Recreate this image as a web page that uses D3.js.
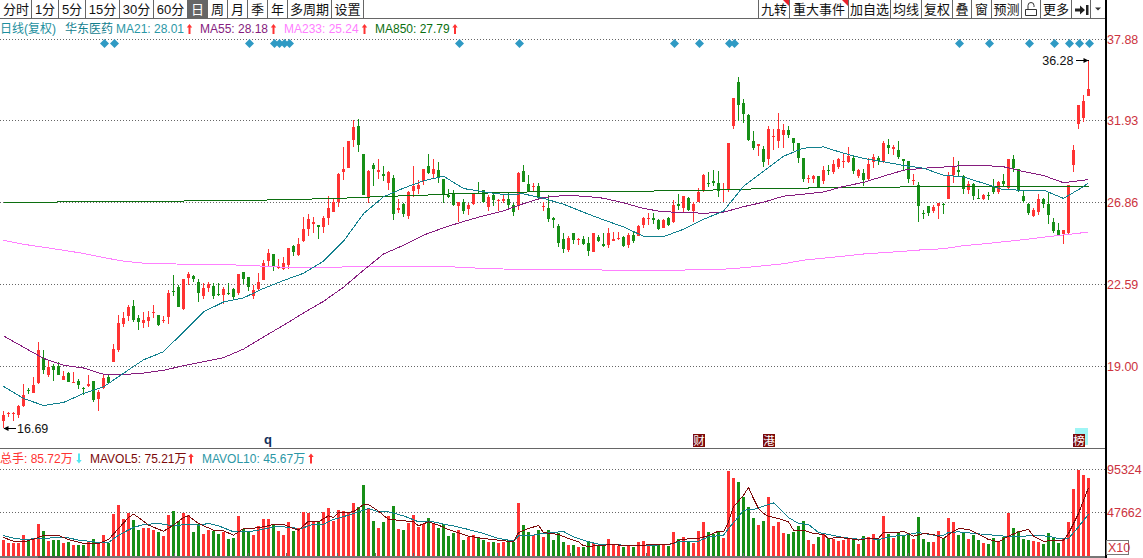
<!DOCTYPE html>
<html lang="zh">
<head>
<meta charset="utf-8">
<title>华东医药 日线</title>
<script src="https://cdn.jsdelivr.net/npm/d3@7/dist/d3.min.js"></script>
<style>
  html, body { margin: 0; padding: 0; background: #fff; }
  svg { display: block; }
  text { font-family: "Liberation Sans", "Noto Sans CJK SC", sans-serif; }
  .crisp { shape-rendering: crispEdges; }
</style>
</head>
<body>
<script>
// Daily OHLC prices, oldest first
const opens = [
  16.94,17.19,17.19,17.15,17.47,18.07,17.98,18.36,19.36,18.65,
  19.02,19.02,18.46,18.74,18.34,18.42,18.16,18.22,18.42,17.74,
  18.17,18.59,19.17,19.67,20.77,21.13,21.59,21.04,20.82,20.92,
  21.25,21.17,20.91,21.10,22.29,22.48,21.44,22.91,22.99,22.72,
  22.05,22.43,22.51,22.13,22.11,22.18,22.37,22.19,23.19,22.93,
  22.05,22.37,22.80,23.73,24.09,23.39,23.36,23.53,24.49,24.03,
  24.75,25.38,25.65,25.60,25.51,25.98,26.35,26.89,28.65,28.87,
  30.63,31.55,29.78,27.09,29.05,28.63,28.51,27.97,28.27,26.42,
  26.76,26.11,27.50,27.62,28.09,29.00,28.55,28.75,28.21,27.31,
  27.33,26.65,26.86,26.48,26.76,27.41,27.56,26.60,27.31,26.95,
  26.93,27.05,26.71,26.65,28.71,27.91,27.75,27.79,26.59,26.52,
  26.01,25.54,24.85,24.32,25.16,24.80,24.85,24.68,24.20,24.99,
  24.58,24.54,24.76,24.89,24.99,24.54,25.05,25.04,25.60,25.94,
  25.98,25.89,25.47,26.00,25.76,26.75,26.57,27.09,26.37,26.86,
  27.52,28.01,28.11,27.99,27.60,27.66,31.56,34.61,33.11,32.28,
  30.57,30.25,30.05,29.42,30.85,30.57,30.95,31.28,30.76,30.44,
  29.49,28.23,28.21,28.39,28.09,28.75,28.67,28.93,29.28,29.24,
  29.50,28.39,28.57,28.21,29.28,29.53,29.24,30.31,30.07,29.99,
  29.42,29.32,28.11,27.89,26.24,26.65,26.38,26.67,26.78,27.06,
  28.47,28.75,28.39,27.56,27.91,27.14,27.05,27.29,27.75,27.46,
  28.09,27.69,29.42,28.85,27.22,26.75,26.11,26.31,27.05,26.76,
  25.80,25.33,25.12,25.16,29.05,31.68,32.07,33.62
];
const closes = [
  17.15,17.21,17.21,17.47,17.88,18.03,18.26,19.67,18.85,18.98,
  18.85,18.65,18.61,18.37,18.37,18.26,18.12,18.33,17.70,18.01,
  18.54,18.36,19.71,20.82,21.04,21.54,20.95,20.88,20.95,21.08,
  21.31,20.73,20.98,22.19,22.24,21.54,22.85,23.09,22.86,22.19,
  22.43,22.61,22.04,22.08,22.37,22.13,21.98,23.09,22.85,22.48,
  22.31,22.69,23.62,24.12,23.48,23.44,23.62,24.41,24.20,24.63,
  25.38,25.91,25.76,25.51,26.00,26.57,26.86,28.55,28.85,30.57,
  31.50,30.31,27.29,28.69,28.81,28.75,28.39,28.63,26.20,26.55,
  26.20,27.45,27.81,27.85,28.85,28.59,28.85,28.27,27.33,27.18,
  26.71,26.86,26.37,26.71,27.37,27.35,26.86,27.18,26.99,27.01,
  27.05,26.71,26.33,28.59,28.05,27.52,27.79,27.18,26.65,25.91,
  25.87,24.66,24.33,24.94,24.80,24.89,24.63,24.25,25.19,24.76,
  24.49,25.19,24.85,24.94,24.49,25.05,24.75,25.54,26.00,26.00,
  25.89,25.37,25.89,25.60,26.71,26.67,27.22,26.42,26.76,27.46,
  28.45,27.96,28.01,27.52,27.63,30.44,33.46,32.97,32.35,30.63,
  30.10,30.38,29.24,31.35,30.91,31.35,31.28,30.95,30.44,29.49,
  28.21,28.29,28.39,27.71,28.75,28.71,29.11,29.44,29.32,29.65,
  28.69,28.75,28.15,29.11,29.59,29.32,30.44,30.12,30.18,29.55,
  29.30,28.21,28.17,26.67,26.20,26.28,26.63,26.82,26.72,28.49,
  28.95,28.63,27.63,27.91,27.23,27.09,27.27,27.23,27.46,28.05,
  27.91,29.42,28.89,27.56,26.93,26.24,26.42,27.05,26.76,26.15,
  25.27,25.07,25.33,27.85,29.99,32.97,33.25,34.10
];
const highs = [
  17.29,17.25,17.25,17.51,18.33,18.16,18.58,19.99,19.67,19.25,
  19.12,19.18,18.81,18.78,18.78,18.49,18.20,18.65,18.42,18.07,
  18.72,18.65,19.92,21.17,21.32,21.65,21.85,21.17,21.32,21.37,
  21.62,21.17,21.14,22.35,23.04,22.56,22.85,23.20,23.04,22.85,
  22.64,22.69,22.64,22.64,22.45,22.64,22.40,23.09,23.19,22.96,
  22.56,23.12,23.78,24.36,24.09,23.83,23.93,24.41,24.54,24.94,
  26.05,26.23,26.05,25.60,26.09,27.22,27.09,28.61,30.20,30.57,
  31.95,32.02,29.78,28.79,29.16,29.46,29.00,28.71,28.45,27.05,
  26.80,27.52,29.00,28.15,28.85,29.74,29.42,29.24,28.25,27.66,
  27.56,26.86,27.05,26.84,27.37,28.04,27.56,27.27,27.37,27.03,
  27.37,27.41,26.84,28.65,29.05,28.45,27.96,28.01,26.89,27.27,
  26.05,25.65,25.19,25.01,25.16,24.94,25.04,24.99,25.19,25.07,
  25.16,25.47,25.24,25.24,25.01,25.16,25.27,25.60,26.05,26.24,
  26.24,25.96,25.96,26.05,26.99,27.33,27.22,27.18,26.89,27.71,
  28.51,28.65,28.75,28.71,27.99,30.44,33.46,34.98,33.44,32.35,
  31.21,30.38,30.25,31.55,31.33,32.43,31.68,31.55,30.76,30.44,
  29.53,28.45,28.45,28.39,28.98,29.05,29.40,29.53,29.78,30.18,
  29.67,28.81,28.85,29.53,29.78,29.61,30.57,30.69,30.31,30.57,
  29.42,29.32,28.51,28.05,26.46,26.65,26.71,26.84,26.80,28.65,
  29.55,29.30,28.45,28.09,28.01,27.62,27.33,27.46,28.25,28.09,
  28.55,29.46,29.67,28.85,27.56,26.84,26.52,27.37,27.09,27.46,
  26.00,25.72,25.33,27.85,30.31,32.97,33.68,36.28
];
const lows = [
  16.69,17.09,16.94,17.03,17.45,17.92,17.95,18.33,18.72,18.59,
  18.43,18.65,18.46,18.37,18.34,18.13,17.88,18.20,17.64,17.29,
  18.10,18.30,19.17,19.60,20.66,20.92,20.88,20.51,20.61,20.63,
  21.03,20.69,20.83,20.77,22.04,21.52,21.40,22.56,22.72,21.78,
  21.93,22.24,21.93,22.05,21.70,22.08,21.93,22.08,22.59,22.29,
  21.90,22.32,22.80,23.48,23.24,23.36,23.31,23.36,24.00,24.00,
  24.72,25.04,25.16,24.85,25.19,25.60,26.33,26.60,28.15,28.87,
  30.20,29.88,27.29,26.84,27.79,28.25,28.11,27.56,25.87,26.24,
  26.05,25.96,27.18,27.33,27.85,28.55,28.25,27.99,26.84,27.14,
  26.67,25.75,26.20,26.14,26.71,27.33,26.80,26.37,26.65,26.38,
  26.84,26.52,26.09,26.46,28.05,27.46,27.46,26.99,26.37,25.80,
  25.45,24.45,24.16,24.20,24.63,24.54,24.54,23.98,24.20,24.72,
  24.45,24.40,24.76,24.80,24.45,24.40,24.66,25.04,25.45,25.60,
  25.65,25.33,25.47,25.54,25.72,26.42,26.28,26.37,25.78,26.86,
  27.46,27.75,27.81,27.18,26.89,27.46,31.35,31.90,31.73,30.57,
  29.99,29.61,28.95,29.05,29.99,30.16,30.13,30.74,29.93,29.16,
  28.05,27.99,28.01,27.71,27.91,28.45,28.55,28.81,28.89,29.16,
  28.55,28.31,27.79,28.15,28.87,29.05,29.16,29.78,29.67,29.46,
  28.75,27.99,27.85,25.76,25.91,26.09,26.29,25.92,26.20,27.06,
  27.99,28.39,27.37,27.33,26.99,27.05,26.99,26.99,27.37,27.33,
  27.81,27.66,28.65,27.46,26.84,26.15,26.05,26.15,26.55,25.65,
  25.16,25.07,24.59,25.12,28.65,31.33,31.84,33.62
];

// Daily volume in units of ten lots (panel is marked X10)
const volumes = [
  16990,14040,13670,13670,22540,17000,18110,34730,26970,15890,
  17000,17000,14040,15150,11450,11450,11450,15150,18110,13300,
  22540,14040,45820,55800,41010,46930,39170,28080,30300,30300,
  28080,25870,21430,44710,49140,38060,46930,44340,25870,34730,
  23650,28080,26970,23650,25870,18110,19210,43600,29190,25870,
  22540,32520,41010,39910,33620,26970,22540,36950,26970,30300,
  48040,46930,36950,38060,48040,52470,38060,50250,49140,46930,
  58010,53580,77970,51360,38060,30300,36950,43600,54690,29190,
  28080,35840,44710,31410,34730,41380,34730,30300,34730,21430,
  24760,28080,17000,20320,22540,20320,17000,14780,14780,13670,
  14780,17000,14780,58010,33620,25870,22540,28080,20320,28080,
  17000,24760,14780,11450,11450,9240,9240,15890,13670,10720,
  12190,18110,11450,10350,9240,11450,9240,14780,15890,11450,
  12190,12560,11450,10350,25870,18110,20320,15890,13670,26970,
  36950,25870,23650,26970,19210,93480,85720,81290,64660,53580,
  41380,33620,38060,64660,32520,36950,24760,23650,25870,32520,
  38060,17000,12560,20320,23650,19950,18110,15890,17000,18110,
  18110,12560,21430,20320,23650,17000,43600,23650,19210,24760,
  22170,24760,18110,42490,18110,14780,14780,26970,19210,41380,
  36950,22540,24760,18110,22540,17000,13670,12560,19210,14780,
  20320,46930,30300,26970,18110,17000,15890,14780,12560,24760,
  19210,13670,18110,36950,73530,95324,89050,85720
];

// Moving averages of the close, read every fourth session plus the last one
const maSampleDays = [...d3.range(0, 217, 4), 217];
const ma21 = [
  18.22,17.76,17.50,17.61,17.95,18.20,18.73,19.27,19.60,20.44,
  21.32,21.77,21.96,22.40,22.78,23.13,23.73,24.75,26.23,27.18,
  27.68,28.11,28.39,27.66,27.47,27.31,27.35,27.09,26.76,26.31,
  25.89,25.51,25.01,24.99,25.38,25.92,26.37,27.79,28.69,29.61,
  30.12,30.20,29.80,29.47,29.27,29.04,28.87,28.45,28.34,27.97,
  27.58,27.57,27.57,27.09,27.77,28.01
];
const ma55 = [
  20.27,19.79,19.33,19.05,18.94,18.69,18.68,18.74,18.85,19.03,
  19.19,19.36,19.71,20.22,20.73,21.27,21.80,22.46,23.28,24.09,
  24.54,25.07,25.46,25.80,26.11,26.39,26.79,27.14,27.25,27.22,
  27.10,26.84,26.52,26.33,26.31,26.25,26.31,26.62,26.87,27.22,
  27.33,27.46,27.78,28.02,28.39,28.75,28.87,28.94,29.04,29.04,
  28.96,28.67,28.43,28.00,28.15,28.18
];
const ma233 = [
  24.80,24.59,24.44,24.28,24.12,23.91,23.73,23.63,23.60,23.58,
  23.57,23.55,23.53,23.48,23.43,23.39,23.41,23.44,23.46,23.48,
  23.47,23.46,23.45,23.43,23.36,23.34,23.31,23.31,23.30,23.30,
  23.29,23.28,23.28,23.28,23.29,23.30,23.33,23.40,23.50,23.60,
  23.78,23.88,23.98,24.09,24.16,24.23,24.31,24.36,24.52,24.61,
  24.72,24.83,24.96,25.08,25.20,25.24
];
const ma850 = [
  26.87,26.87,26.87,26.89,26.90,26.90,26.92,26.93,26.93,26.94,
  26.96,26.97,26.97,26.99,27.03,27.03,27.09,27.10,27.16,27.19,
  27.24,27.27,27.33,27.37,27.39,27.43,27.45,27.49,27.50,27.50,
  27.50,27.50,27.50,27.53,27.54,27.56,27.59,27.62,27.65,27.66,
  27.68,27.72,27.72,27.74,27.74,27.75,27.77,27.77,27.78,27.78,
  27.78,27.79,27.79,27.79,27.79,27.79
];

// Volume averages, read at their turning points
const mavol5Days = [0,2,4,6,8,11,13,16,19,21,23,25,26,27,29,32,34,36,37,39,42,44,46,48,51,54,56,58,59,61,63,65,66,67,70,72,73,75,77,79,82,83,85,87,89,93,96,99,102,103,105,107,108,111,113,115,116,117,119,122,124,126,128,131,133,134,135,137,139,141,143,144,145,146,148,149,150,151,152,153,155,157,158,160,162,164,165,167,169,171,173,175,176,179,180,182,184,186,188,190,191,193,195,197,199,201,203,205,206,208,212,213,215,217];
const mavol5 = [19950,15890,15150,18100,22170,22170,17740,13300,13300,17740,29930,42120,45820,42120,33620,26970,33620,42120,43970,35470,28080,27340,22540,29930,30670,34360,34360,29930,28080,38060,37320,43970,42120,47300,48400,56530,56530,49140,39910,39170,37320,32890,37320,33620,28820,21430,18840,17000,15150,25500,29930,33260,25500,23280,18840,15150,10720,10350,10720,12560,10720,10720,11450,12560,12560,13300,17000,18480,18840,22170,26970,26230,37320,53950,66880,75380,63180,52100,46560,43600,41010,37320,28080,28080,24390,23280,18840,19950,18840,17000,18840,18840,25500,25500,26970,21430,24390,23280,18840,26970,29560,29190,23650,17740,15150,21430,26230,28820,21430,15890,17000,24390,46560,75210];
const mavol10Days = [0,2,4,7,10,13,15,17,19,21,23,26,28,31,34,37,39,41,43,46,49,52,55,57,58,59,62,64,66,69,71,73,75,77,80,83,86,89,90,93,96,99,102,103,106,108,112,114,117,119,122,125,129,133,135,139,141,144,145,147,148,150,152,154,155,157,159,161,163,165,168,171,173,175,178,180,183,186,188,189,191,195,198,201,203,206,209,211,213,215,217];
const mavol10 = [22170,19210,17740,18840,19580,19580,17000,15890,14410,14410,22540,31040,34360,35470,32890,34730,33620,35470,32890,26230,26230,29190,32520,31040,31040,28820,34730,34730,39910,44710,48400,52100,48400,48400,43970,37320,37320,33620,32890,28820,24390,18840,16260,21800,22540,24390,26600,20690,15150,12560,11820,11450,11450,11820,15150,15890,20690,22540,29930,42860,50250,50990,54690,58380,53210,42120,35470,34360,25500,23280,19950,18110,18840,17740,21430,22170,25500,22540,22540,25500,26230,24020,22540,21060,21060,22170,21430,18840,18840,31780,45670];

// Axis ticks and header text
const priceTicks = [37.88, 31.93, 26.86, 22.59, 19.00];
const volumeTicks = [95324, 47662];
const leftTabs = ["分时","1分","5分","15分","30分","60分","日","周","月","季","年","多周期","设置"];
const rightTabs = ["九转","重大事件","加自选","均线","复权","叠","窗","预测","","更多","",""];
const signalDays = [20,22,49,54,55,56,57,91,103,134,139,145,146,191,197,205,210,213,215,217];
const eventLabels = [{ day: 139, text: "财" }, { day: 153, text: "港" }, { day: 215, text: "榜" }];

// Palette
const RED = "#ff3333", GREEN = "#178f17", TEAL = "#12808e", PURPLE = "#861c7e",
      PINK = "#ff80ff", DEEP_GREEN = "#0c6f10", MAROON = "#7c0a0a", AXIS_RED = "#cc3340",
      TICK_GREY = "#666";

const W = 1143, H = 558, AXIS_X = 1105;
const svg = d3.select("body").append("svg").attr("width", W).attr("height", H)
  .style("background", "#fff");

const x = d3.scaleLinear().domain([0, opens.length - 1]).range([3.5, 1088.5]);
const yPrice = d3.scaleLog().domain([19, 37.88]).range([366.5, 39.5]);
const yVol = d3.scaleLinear().domain([0, 95324]).range([555.5, 469.5]);

// Dotted horizontal guides
const guides = svg.append("g").attr("class", "crisp");
guides.selectAll("line.p").data(priceTicks).join("line").attr("class", "p")
  .attr("x1", 0).attr("x2", AXIS_X).attr("y1", d => yPrice(d)).attr("y2", d => yPrice(d));
guides.selectAll("line.v").data(volumeTicks).join("line").attr("class", "v")
  .attr("x1", 0).attr("x2", AXIS_X).attr("y1", d => yVol(d)).attr("y2", d => yVol(d));
guides.selectAll("line").attr("stroke", TICK_GREY).attr("stroke-dasharray", "1 2");

// Candlesticks
const candleColor = i => closes[i] >= opens[i] ? RED : GREEN;
const days = d3.range(opens.length);
const candles = svg.append("g").attr("class", "crisp");
candles.selectAll("line").data(days).join("line")
  .attr("x1", i => x(i)).attr("x2", i => x(i))
  .attr("y1", i => yPrice(highs[i])).attr("y2", i => yPrice(lows[i]))
  .attr("stroke", candleColor);
candles.selectAll("rect").data(days).join("rect")
  .attr("x", i => x(i) - 1.5).attr("width", 3)
  .attr("y", i => yPrice(Math.max(opens[i], closes[i])))
  .attr("height", i => Math.max(1, yPrice(Math.min(opens[i], closes[i])) - yPrice(Math.max(opens[i], closes[i]))))
  .attr("fill", candleColor);

// Moving average lines
const priceLine = d3.line().x((d, k) => x(maSampleDays[k])).y(d => yPrice(d));
[[ma850, DEEP_GREEN], [ma233, PINK], [ma55, PURPLE], [ma21, TEAL]].forEach(([series, color]) => {
  svg.append("path").attr("class", "crisp").attr("fill", "none").attr("stroke", color)
    .attr("stroke-width", 1).attr("d", priceLine(series));
});

// Volume bars and their averages
svg.append("g").attr("class", "crisp").selectAll("rect").data(days).join("rect")
  .attr("x", i => x(i) - 1.5).attr("width", 3)
  .attr("y", i => yVol(volumes[i])).attr("height", i => yVol(0) - yVol(volumes[i]))
  .attr("fill", candleColor);
const volLine = dayList => d3.line().x((d, k) => x(dayList[k])).y(d => yVol(d));
svg.append("path").attr("class", "crisp").attr("fill", "none").attr("stroke", TEAL)
  .attr("d", volLine(mavol10Days)(mavol10));
svg.append("path").attr("class", "crisp").attr("fill", "none").attr("stroke", MAROON)
  .attr("d", volLine(mavol5Days)(mavol5));

// Signal diamonds along the top guide
svg.append("g").selectAll("path").data(signalDays).join("path")
  .attr("transform", d => `translate(${x(d) + 1},43.5)`)
  .attr("d", "M0,-4.5L4.5,0L0,4.5L-4.5,0Z").attr("fill", "#2f9ac4");

// Highest and lowest price callouts
function callout(day, price, label, side) {
  const px = x(day), py = Math.round(yPrice(price)) + 0.5;
  const g = svg.append("g");
  const x0 = side < 0 ? px - 13 : px + 12;
  g.append("line").attr("class", "crisp").attr("x1", px).attr("x2", x0).attr("y1", py).attr("y2", py).attr("stroke", "#000");
  g.append("path").attr("d", `M${px},${py}l${side * 5},-2.5v5Z`).attr("fill", "#000");
  g.append("text").attr("x", side < 0 ? px - 15 : px + 13.5).attr("y", py).attr("dy", "0.36em")
    .attr("text-anchor", side < 0 ? "end" : "start").attr("font-size", 12.5).attr("fill", "#111").text(label);
}
callout(217, d3.max(highs), "36.28", -1);
callout(0, d3.min(lows), "16.69", 1);

// Panel dividers
const frame = svg.append("g").attr("class", "crisp");
frame.append("rect").attr("x", 0).attr("y", 18).attr("width", AXIS_X).attr("height", 1).attr("fill", "#666");
frame.append("rect").attr("x", 0).attr("y", 448).attr("width", AXIS_X).attr("height", 1).attr("fill", "#666");
frame.append("rect").attr("x", 0).attr("y", 556).attr("width", AXIS_X).attr("height", 2).attr("fill", "#777");
frame.append("rect").attr("x", 38).attr("y", 556).attr("width", 51).attr("height", 2).attr("fill", "#555");
frame.selectAll("line.tick").data([174, 248, 286, 337, 375, 413, 497, 570, 646, 743, 829, 908]).join("line")
  .attr("class", "tick").attr("x1", d => d + 0.5).attr("x2", d => d + 0.5).attr("y1", 553).attr("y2", 556).attr("stroke", "#666");
frame.append("rect").attr("x", AXIS_X).attr("y", 0).attr("width", 2).attr("height", H).attr("fill", "#000");

// Right-hand axes
const styleAxis = g => {
  g.select(".domain").remove();
  g.selectAll("text").attr("font-family", '"Liberation Sans", sans-serif').attr("font-size", 12.5).attr("fill", AXIS_RED);
};
svg.append("g").attr("transform", `translate(${AXIS_X + 2},0)`)
  .call(d3.axisRight(yPrice).tickValues(priceTicks).tickFormat(d3.format(".2f")).tickSize(0).tickPadding(0))
  .call(styleAxis);
svg.append("g").attr("transform", `translate(${AXIS_X + 2},0)`)
  .call(d3.axisRight(yVol).tickValues(volumeTicks).tickFormat(d3.format("d")).tickSize(0).tickPadding(0))
  .call(styleAxis);
svg.append("rect").attr("class", "crisp").attr("x", 1106.5).attr("y", 540.5).attr("width", 22).attr("height", 14)
  .attr("fill", "#fff").attr("stroke", "#777");
svg.append("text").attr("x", 1108).attr("y", 552).attr("font-size", 12.5).attr("fill", AXIS_RED).text("X10");

// Toolbars
const toolbar = svg.append("g").attr("font-size", 13);
const tabText = (label, cx, color) => toolbar.append("text").attr("x", cx).attr("y", 13.5)
  .attr("text-anchor", "middle").attr("fill", color).text(label);
const leftEdges = [0, 31, 58, 85, 119, 153, 187, 207, 227, 247, 267, 287, 331, 363];
toolbar.append("rect").attr("class", "crisp").attr("x", 187).attr("y", 0).attr("width", 20).attr("height", 18).attr("fill", "#666");
leftTabs.forEach((label, k) => {
  tabText(label, (leftEdges[k] + leftEdges[k + 1]) / 2 + 0.5, label === "日" ? "#fff" : "#111");
});
leftEdges.slice(1).forEach(e => toolbar.append("rect").attr("class", "crisp")
  .attr("x", e).attr("y", 0).attr("width", 1).attr("height", 18).attr("fill", "#666"));

const rightEdges = [758, 789, 848, 890, 921, 952, 971, 991, 1021, 1040, 1071, 1090, 1105];
rightTabs.forEach((label, k) => {
  if (label) tabText(label, (rightEdges[k] + rightEdges[k + 1]) / 2 + 0.5, "#111");
});
rightEdges.slice(0, -1).forEach(e => toolbar.append("rect").attr("class", "crisp")
  .attr("x", e).attr("y", 0).attr("width", 1).attr("height", 18).attr("fill", "#666"));
// Red corner flags on the two tabs with news
toolbar.append("path").attr("d", "M783,0H789V6Z").attr("fill", "#e8202a");
toolbar.append("path").attr("d", "M842,0H848V6Z").attr("fill", "#e8202a");
// Lock, dock arrow and menu caret icons
toolbar.append("path").attr("fill", "none").attr("stroke", "#333").attr("stroke-width", 1)
  .attr("d", "M1025.5,9.5H1036.5V15.5H1025.5ZM1028,9.5V5.5A3,3 0 0 1 1034,5.5V7");
toolbar.append("path").attr("fill", "#222").attr("d", "M1075,8.5H1080V5.5L1085,10L1080,14.5V11.5H1075ZM1086,5H1088.5V15H1086Z");
toolbar.append("path").attr("fill", "#333").attr("d", "M1095,7.5H1101L1098,10.5Z");

// Arrow beside a legend value
function legendArrow(ax, ay, up, color) {
  const s = up ? 1 : -1;
  svg.append("path").attr("fill", color)
    .attr("d", `M${ax},${ay - 5 * s}L${ax + 2.7},${ay - 1.5 * s}H${ax + 1}V${ay + 5 * s}H${ax - 1}V${ay - 1.5 * s}H${ax - 2.7}Z`);
}

// Price legend line
const legendText = (label, lx, ly, color) => svg.append("text").attr("x", lx).attr("y", ly)
  .attr("font-size", 12).attr("fill", color).text(label);
legendText("日线(复权)", 0, 33, "#1c8f9e");
legendText("华东医药", 65, 33, TEAL);
legendText("MA21: 28.01", 116, 33, "#2b97a6");
legendArrow(189.5, 29, true, RED);
legendText("MA55: 28.18", 200, 33, PURPLE);
legendArrow(273.5, 29, true, RED);
legendText("MA233: 25.24", 284, 33, PINK);
legendArrow(364.5, 29, true, RED);
legendText("MA850: 27.79", 375, 33, DEEP_GREEN);
legendArrow(455, 29, true, RED);

// Volume legend line
legendText("总手: 85.72万", 0, 463, RED);
legendArrow(79, 458.5, false, "#55e6f0");
legendText("MAVOL5: 75.21万", 90, 463, MAROON);
legendArrow(191, 458.5, true, RED);
legendText("MAVOL10: 45.67万", 202, 463, "#2b97a6");
legendArrow(311, 458.5, true, RED);

// Event markers above the divider
svg.append("text").attr("x", 268).attr("y", 444).attr("text-anchor", "middle").attr("font-size", 13)
  .attr("font-weight", "bold").attr("fill", "#12305a").text("q");
const tagBoxLeft = d => x(d) - 5.5;
svg.append("rect").attr("class", "crisp").attr("x", tagBoxLeft(215) + 2).attr("y", 428).attr("width", 13).attr("height", 17).attr("fill", "#9ff5f5");
const tags = svg.append("g").selectAll("g").data(eventLabels).join("g");
tags.append("rect").attr("class", "crisp").attr("x", d => tagBoxLeft(d.day)).attr("y", 434).attr("width", 12).attr("height", 13).attr("fill", "#7a0a0a");
tags.append("text").attr("x", d => tagBoxLeft(d.day) + 6).attr("y", 445).attr("text-anchor", "middle")
  .attr("font-size", 11.5).attr("fill", "#fff").text(d => d.text);
</script>
</body>
</html>
